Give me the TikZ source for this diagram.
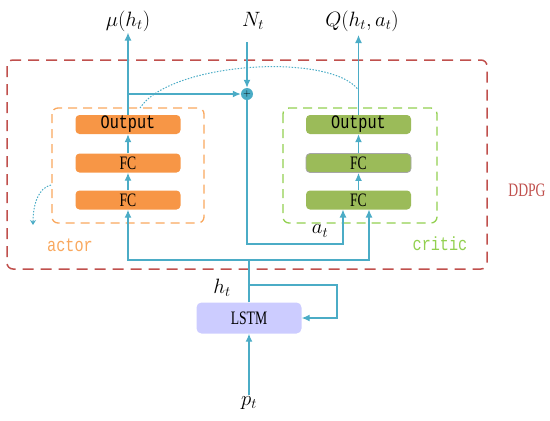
\documentclass[tikz,border=0pt]{standalone}
\usepackage{fontspec}
\usepackage{amsmath}
\usepackage{tikz}
\usetikzlibrary{arrows.meta}
\usetikzlibrary{positioning}
\newfontfamily\monofont[FakeStretch=0.8]{Liberation Mono}
\newfontfamily\narrowfont[FakeStretch=0.72]{Liberation Serif}
\definecolor{lineblue}{HTML}{4BACC6}
\definecolor{actorfill}{HTML}{F79646}
\definecolor{actordash}{HTML}{F9A85E}
\definecolor{criticfill}{HTML}{9BBB59}
\definecolor{criticdash}{HTML}{92D050}
\definecolor{ddpgred}{HTML}{C0504D}
\definecolor{lstmfill}{HTML}{CCCCFF}
\begin{document}
\begin{tikzpicture}
      [
      x=1pt,y=-1pt,
      conn/.style={draw=lineblue,line width=1.3pt},
      arrow/.style={conn,-{Latex[length=8pt,width=7pt]}},
      dottedcurve/.style={draw=lineblue,line width=1pt,dash pattern=on 1.5pt off 1.5pt},
      layer/.style={rectangle,rounded corners=4pt,inner sep=0pt,minimum width=105pt,minimum height=19pt},
      actorbox/.style={layer,fill=actorfill},
      criticbox/.style={layer,fill=criticfill},
      monotext/.style={font=\monofont\fontsize{19}{19}\selectfont},
      seriftext/.style={font=\narrowfont\fontsize{19}{19}\selectfont},
      lstmbox/.style={rectangle,rounded corners=5pt,fill=lstmfill,inner sep=0pt,minimum width=105pt,minimum height=31pt,seriftext},
      sum/.style={circle,fill=lineblue,inner sep=0pt,minimum size=12pt,font=\fontsize{10}{10}\selectfont},
      mathlabel/.style={inner sep=1pt,font=\fontsize{22}{22}\selectfont},
      groupbox/.style={line width=1.3pt,dash pattern=on 9pt off 6pt,rounded corners=6pt}
      ]
      \useasboundingbox (0,0) rectangle (550,421);
      \draw [groupbox,draw=ddpgred,line width=1.5pt,dash pattern=on 11pt off 7pt] (7,60) rectangle (487,269);
      \draw [groupbox,draw=actordash] (52,108) rectangle (204,223);
      \draw [groupbox,draw=criticdash] (283,108) rectangle (437,223);
      \node (ddpg) at (527,190) [text=ddpgred,seriftext] {DDPG};
      \node (actor) at (70,245) [text=actordash,monotext] {actor};
      \node (critic) at (440,244) [text=criticdash,monotext] {critic};
      \node (mu) at (128,21) [mathlabel] {$\mu(h_t)$};
      \node (N) at (253,21) [mathlabel] {$N_t$};
      \node (Q) at (362,21) [mathlabel] {$Q(h_t,a_t)$};
      \node (aout) at (128,124.5) [actorbox,monotext] {Output};
      \node (afc1) at (128,163) [actorbox,seriftext] {FC};
      \node (afc2) at (128,200) [actorbox,seriftext] {FC};
      \node (cout) at (358.5,124.5) [criticbox,monotext] {Output};
      \node (cfc1) at (358.5,163) [criticbox,draw=gray!70,line width=0.8pt,seriftext] {FC};
      \node (cfc2) at (358.5,200) [criticbox,seriftext] {FC};
      \node (plus) at (247,94) [sum] {$+$};
      \node (lstm) at (249,318) [lstmbox] {LSTM};
      \node (p) at (249,403) [mathlabel] {$p_t$};
      \node (h) at (222,288) [mathlabel] {$h_t$};
      \node (a) at (320,231) [mathlabel] {$a_t$};
      \coordinate (split) at (128,94);
      \coordinate (ntop) at (247,42);
      \coordinate (abend) at (247,244);
      \coordinate (cin1) at (343,209.5);
      \coordinate (cin2) at (369,209.5);
      \coordinate (hsplit) at (249,260);
      \coordinate (loop) at (249,285);
      \coordinate (loopc) at (337,285);
      \coordinate (qtop) at (358.5,35);
      \coordinate (dstart) at (140,108);
      \coordinate (dend) at (358.5,90);
      \coordinate (dl1) at (51,185);
      \coordinate (dl2) at (33,225);
      \draw [arrow] (afc2) to (afc1);
      \draw [arrow] (afc1) to (aout);
      \draw [arrow] (aout) to (mu);
      \draw [arrow] (cfc2) to (cfc1);
      \draw [arrow] (cfc1) to (cout);
      \draw [arrow] (cout) to (qtop);
      \draw [arrow] (split) to (plus);
      \draw [arrow] (ntop) to (plus);
      \draw [arrow] (plus) -- (abend) -| (cin1);
      \draw [conn] (lstm) -- (hsplit);
      \draw [arrow] (hsplit) -| (afc2);
      \draw [arrow] (hsplit) -| (cin2);
      \draw [arrow] (loop) -- (loopc) |- (lstm);
      \draw [arrow] (p) to (lstm);
      \draw [dottedcurve] (dstart) .. controls (170,62) and (330,52) .. (dend);
      \draw [dottedcurve,-{Stealth[length=5pt,width=6pt,open]}] (dl1) .. controls (38,188) and (33,205) .. (dl2);
    \end{tikzpicture}
\end{document}
